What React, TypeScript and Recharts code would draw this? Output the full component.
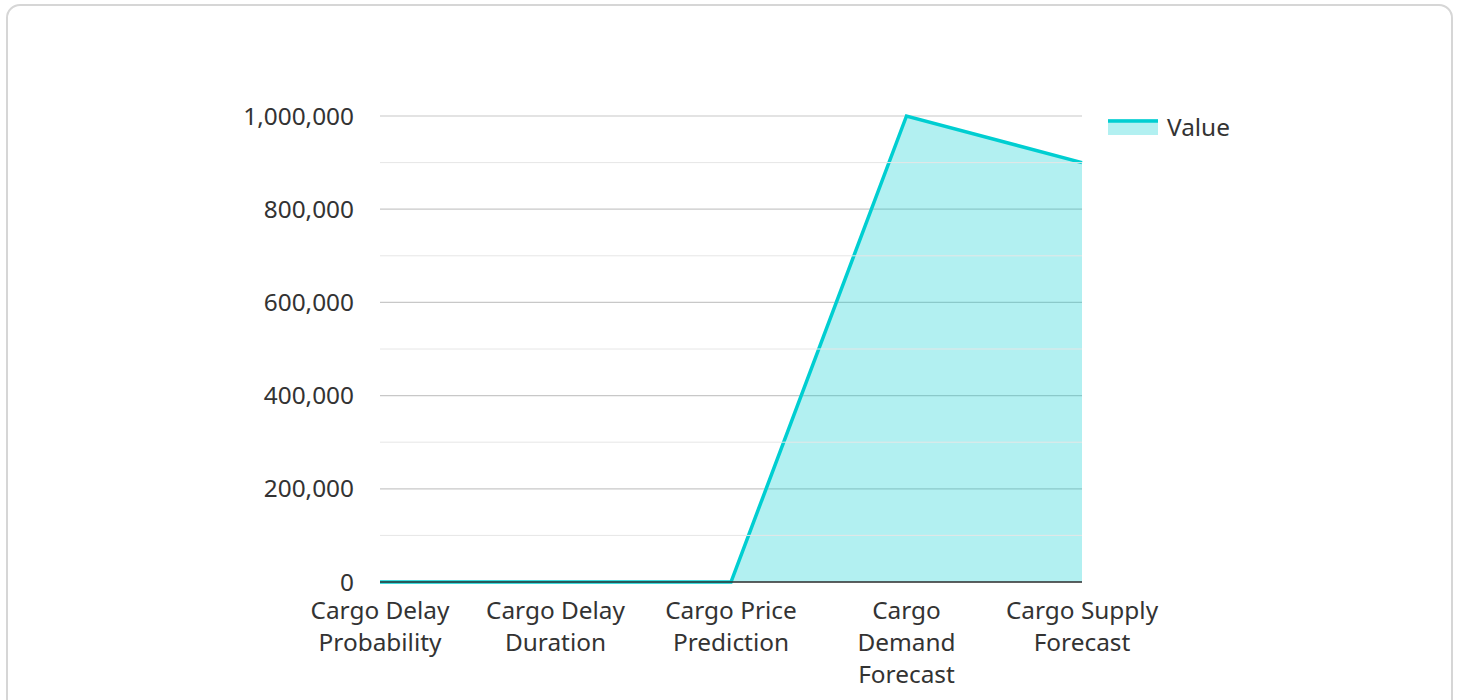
import React from 'react'
import { AreaChart, Area, XAxis, YAxis, CartesianGrid, ReferenceLine } from 'recharts'

const categories = [
  'Cargo Delay Probability',
  'Cargo Delay Duration',
  'Cargo Price Prediction',
  'Cargo Demand Forecast',
  'Cargo Supply Forecast',
]
const values = [0, 0, 0, 1000000, 900000]
const yTicks = [0, 200000, 400000, 600000, 800000, 1000000]
const minorTicks = [100000, 300000, 500000, 700000, 900000]
const seriesName = 'Value'

const FONT = '"Noto Sans", sans-serif'
const TEAL = '#00CED1'

const data = categories.map((name, i) => ({ name, value: values[i] }))

let ctx: CanvasRenderingContext2D | null = null
function measure(s: string) {
  if (!ctx) ctx = document.createElement('canvas').getContext('2d')
  if (!ctx) return s.length * 12
  ctx.font = `24px ${FONT}`
  return ctx.measureText(s).width
}

function wrap(label: string, maxW: number) {
  const words = label.split(' ')
  const lines: string[] = []
  let cur = ''
  for (const w of words) {
    const next = cur ? cur + ' ' + w : w
    if (cur && measure(next) > maxW) {
      lines.push(cur)
      cur = w
    } else cur = next
  }
  if (cur) lines.push(cur)
  return lines
}

function XTick(props: any) {
  const { x, y, payload } = props
  const lines = wrap(payload.value, 160)
  return (
    <text x={x} y={y} textAnchor="middle" fill="#333" fontSize={24.4} fontFamily={FONT}>
      {lines.map((l, i) => (
        <tspan key={i} x={x} dy={i === 0 ? 29 : 32}>{l}</tspan>
      ))}
    </text>
  )
}

export default function App() {
  return (
    <div style={{ position: 'absolute', left: 0, top: 0, width: 1458, height: 700, overflow: 'hidden', background: '#fff' }}>
      <div
        style={{
          position: 'absolute', left: 6, top: 4, width: 1447, height: 740,
          border: '2px solid #d6d6d6', borderRadius: 14, boxSizing: 'border-box',
        }}
      />
      <div style={{ position: 'absolute', left: 0, top: 0 }}>
        <AreaChart width={1458} height={700} data={data} margin={{ top: 116, right: 376, left: 300, bottom: 28 }}>
          {minorTicks.map((t) => (
            <ReferenceLine key={t} y={t} stroke="#e6e6e6" strokeWidth={1} />
          ))}
          <CartesianGrid vertical={false} stroke="#c8c8c8" strokeWidth={1.2} />
          <XAxis
            dataKey="name"
            height={90}
            interval={0}
            tick={<XTick />}
            tickLine={false}
            axisLine={{ stroke: '#333', strokeWidth: 1.5 }}
          />
          <YAxis
            width={80}
            domain={[0, 1000000]}
            ticks={yTicks}
            tickFormatter={(v: number) => v.toLocaleString('en-US')}
            tick={{ fill: '#333', fontSize: 24.4, fontFamily: FONT }}
            tickLine={false}
            axisLine={false}
            tickMargin={20}
          />
          <Area
            type="linear"
            dataKey="value"
            name={seriesName}
            stroke={TEAL}
            strokeWidth={3.5}
            fill={TEAL}
            fillOpacity={0.3}
            isAnimationActive={false}
            dot={false}
            activeDot={false}
          />
        </AreaChart>
      </div>
      <div style={{ position: 'absolute', left: 1108, top: 110, display: 'flex', alignItems: 'center', fontFamily: FONT, fontSize: 24.4, color: '#333' }}>
        <svg width={50} height={16} style={{ marginRight: 9 }}>
          <rect x={0} y={0} width={50} height={16} fill={TEAL} fillOpacity={0.3} />
          <line x1={0} x2={50} y1={2} y2={2} stroke={TEAL} strokeWidth={3.5} />
        </svg>
        <span>{seriesName}</span>
      </div>
    </div>
  )
}
